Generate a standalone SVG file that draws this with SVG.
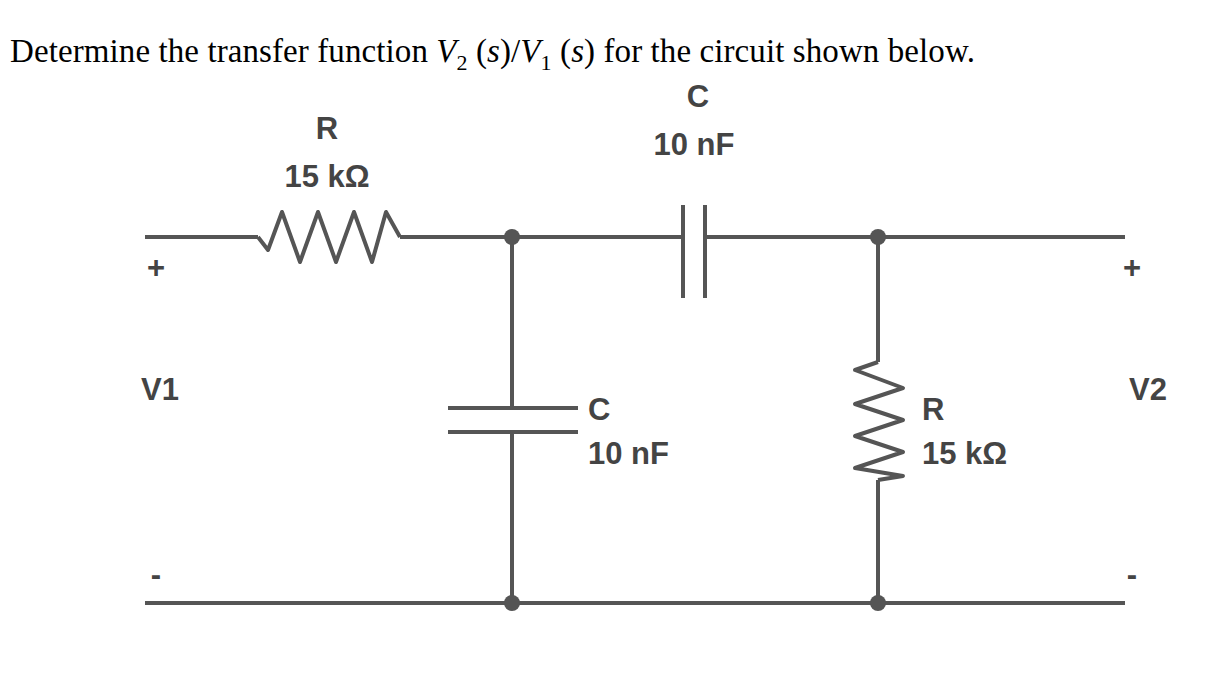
<svg xmlns="http://www.w3.org/2000/svg" width="1208" height="688" viewBox="0 0 1208 688">
<style>
.w{stroke:#555;stroke-width:4;fill:none;stroke-linejoin:round}
.p{stroke:#555;stroke-width:4;fill:none}
.t{font-family:"Liberation Sans",Arial,sans-serif;font-weight:bold;font-size:31px;fill:#444}
.h{font-family:"Liberation Serif","Times New Roman",serif;font-size:33px;fill:#000}
.d{fill:#555}
</style>
<rect width="1208" height="688" fill="#fff"/>
<text class="h" x="10" y="62" textLength="965" lengthAdjust="spacing">Determine the transfer function <tspan font-style="italic">V</tspan><tspan font-size="22" dy="8">2</tspan><tspan dy="-8"> (</tspan><tspan font-style="italic">s</tspan>)/<tspan font-style="italic">V</tspan><tspan font-size="22" dy="8">1</tspan><tspan dy="-8"> (</tspan><tspan font-style="italic">s</tspan>) for the circuit shown below.</text>
<g id="connectors">
<path class="w" d="M145 237H258 M400 237H683 M705 237H1125"/>
<path class="w" d="M145 603H1125"/>
<path class="w" d="M512 237V408 M512 432V603"/>
<path class="w" d="M878 237V362 M878 480V603"/>
</g>
<g id="R1"><path class="w" d="M258 237L268 250L282 212L300 262L318 212L336 262L354 212L372 262L386 212L400 237"/></g>
<g id="C1"><path class="p" d="M683 205V298 M705 205V298"/></g>
<g id="C2"><path class="p" d="M448 408H578 M448 432H578"/></g>
<g id="R2"><path class="w" d="M878 362L855 370L903 388L855 404L903 420L855 436L903 452L855 468L903 476L878 480"/></g>
<g id="dots">
<circle class="d" cx="512" cy="237" r="8"/><circle class="d" cx="878" cy="237" r="8"/>
<circle class="d" cx="512" cy="603" r="8"/><circle class="d" cx="878" cy="603" r="8"/>
</g>
<g id="labels">
<text class="t" x="327" y="139" text-anchor="middle">R</text>
<text class="t" x="327" y="187" text-anchor="middle">15 kΩ</text>
<text class="t" x="698" y="107" text-anchor="middle">C</text>
<text class="t" x="694" y="155" text-anchor="middle">10 nF</text>
<text class="t" x="588" y="420">C</text>
<text class="t" x="588" y="464">10 nF</text>
<text class="t" x="922" y="420">R</text>
<text class="t" x="922" y="464">15 kΩ</text>
<text class="t" x="160" y="400" text-anchor="middle">V1</text>
<text class="t" x="1148" y="400" text-anchor="middle">V2</text>
<text class="t" x="156" y="278" text-anchor="middle" font-size="22">+</text>
<text class="t" x="1132" y="278" text-anchor="middle" font-size="22">+</text>
<text class="t" x="156" y="585" text-anchor="middle" font-size="22">-</text>
<text class="t" x="1132" y="585" text-anchor="middle" font-size="22">-</text>
</g>
</svg>
